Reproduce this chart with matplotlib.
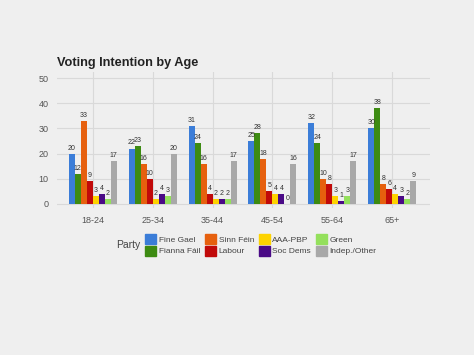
import matplotlib.pyplot as plt
import matplotlib.patches as mpatches
import numpy as np

plt.rcParams['font.family'] = ['Liberation Sans', 'DejaVu Sans']

ages = ['18-24', '25-34', '35-44', '45-54', '55-64', '65+']
parties = ['Fine Gael', 'Fianna Fáil', 'Sinn Féin', 'Labour', 'AAA-PBP', 'Soc Dems', 'Green', 'Indep./Other']
colors = ['#3b7dd8', '#3d8b12', '#e6600e', '#c10a0a', '#fdd300', '#4a0a86', '#94e05c', '#a8a8a8']

fine_gael = [20, 22, 31, 25, 32, 30]
fianna_fail = [12, 23, 24, 28, 24, 38]
sinn_fein = [33, 16, 16, 18, 10, 8]
labour = [9, 10, 4, 5, 8, 6]
aaa_pbp = [3, 2, 2, 4, 3, 4]
soc_dems = [4, 4, 2, 4, 1, 3]
green = [2, 3, 2, 0, 3, 2]
indep = [17, 20, 17, 16, 17, 9]
series = [fine_gael, fianna_fail, sinn_fein, labour, aaa_pbp, soc_dems, green, indep]

bg = '#efefef'
fig = plt.figure(figsize=(4.74, 3.55), dpi=100, facecolor=bg)
ax = fig.add_axes([0.12, 0.415, 0.787, 0.383], facecolor=bg)

x = np.arange(len(ages))
w = 0.1
for i, (vals, c) in enumerate(zip(series, colors)):
    pos = x + (i - 3.5) * w
    ax.bar(pos, vals, width=w, color=c, zorder=2)
    for p, v in zip(pos, vals):
        ax.text(p, v + 0.8, str(v), ha='center', va='bottom', fontsize=5, color='#333333', zorder=3)

ax.set_xlim(-0.6, 5.63)
ax.set_ylim(-1.5, 52.5)
ax.set_yticks([0, 10, 20, 30, 40, 50])
ax.set_xticks(x)
ax.set_xticklabels(ages)
ax.grid(True, color='#d9d9d9', linewidth=0.8, zorder=0)
ax.set_axisbelow(True)
for s in ax.spines.values():
    s.set_visible(False)
ax.tick_params(length=0, labelsize=6.5, colors='#555555', pad=6)

fig.text(0.12, 0.813, 'Voting Intention by Age', fontsize=9.2, fontweight='bold', color='#222222')

handles = [mpatches.Patch(color=c, label=p) for p, c in zip(parties, colors)]
fig.legend(handles=handles, ncol=4, loc='center left', bbox_to_anchor=(0.306, 0.31),
           frameon=False, fontsize=6.0, handlelength=1.35, handleheight=1.5,
           handletextpad=0.3, columnspacing=0.55, labelspacing=0.15, labelcolor='#444444',
           borderaxespad=0, borderpad=0)
fig.text(0.245, 0.31, 'Party', fontsize=7.5, color='#444444', va='center')

fig.savefig('out.png', facecolor=bg)
